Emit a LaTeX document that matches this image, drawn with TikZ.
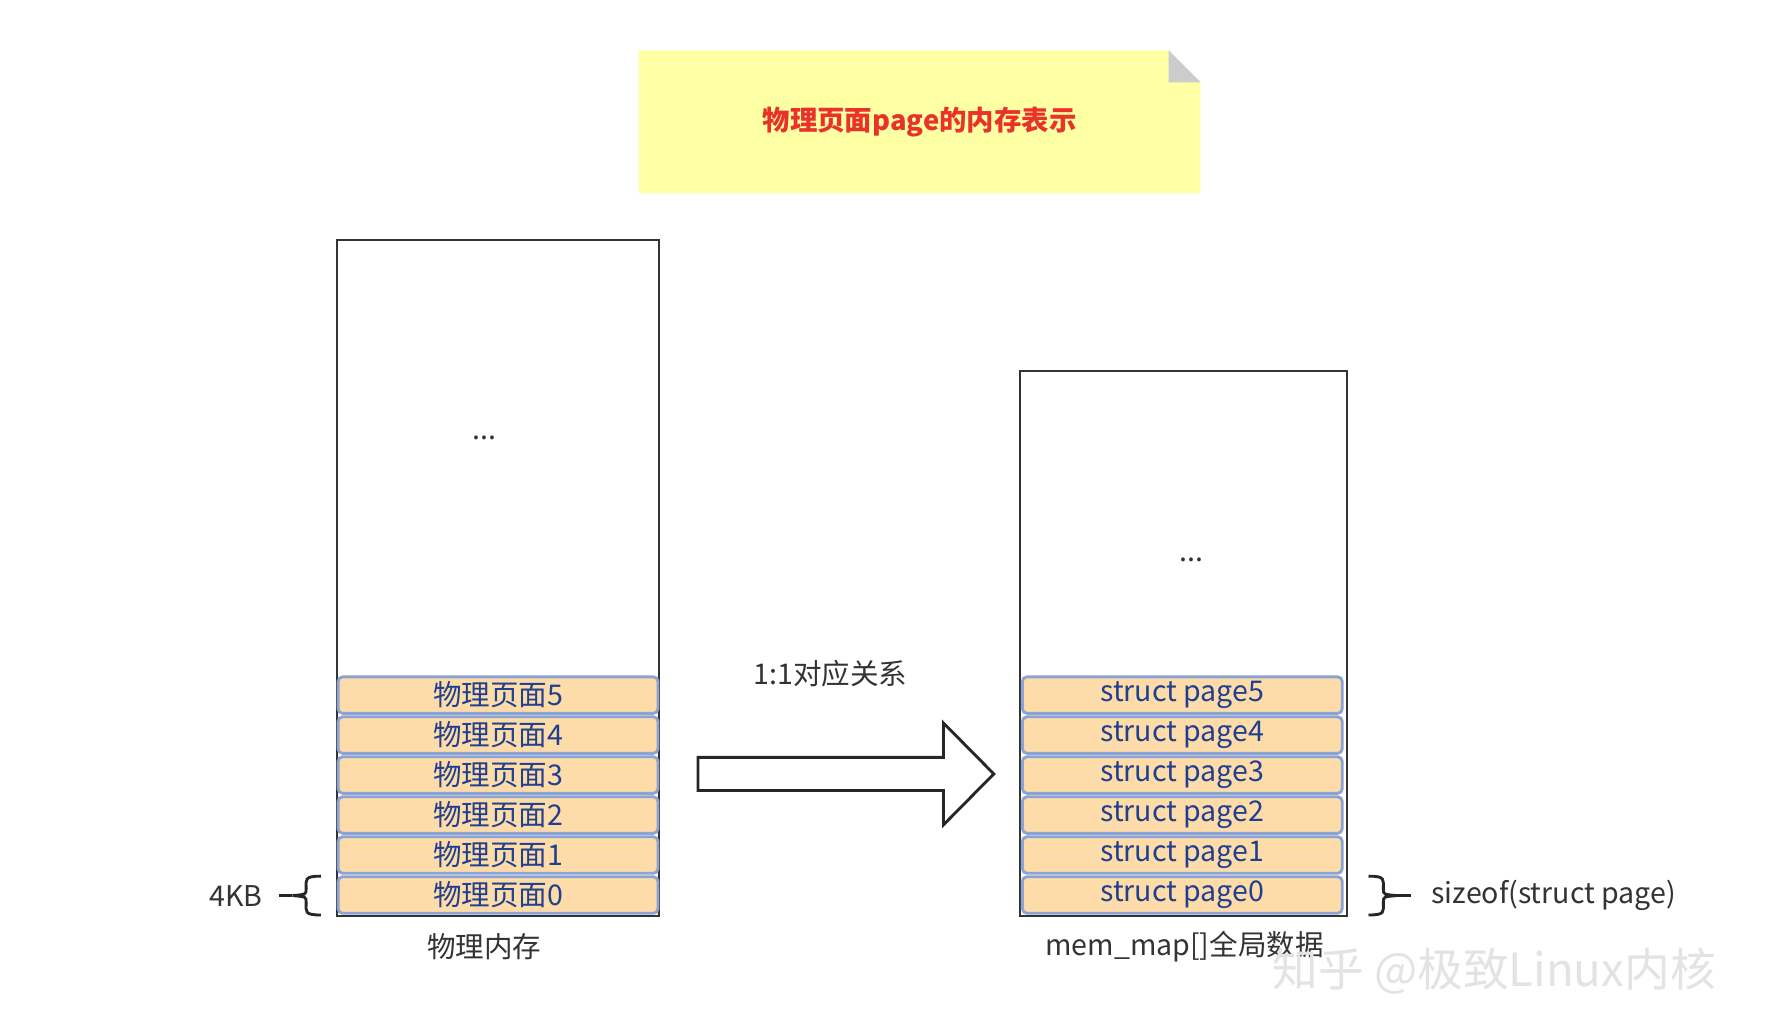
\documentclass[tikz,border=0pt]{standalone}
\usepackage{fontspec}
\setmainfont{Noto Sans CJK SC}
\definecolor{rowfill}{HTML}{FDDCAA}
\definecolor{rowline}{HTML}{8CA4D4}
\definecolor{rowtext}{HTML}{1F3F8F}
\definecolor{notefill}{HTML}{FFFFA3}
\definecolor{titlered}{HTML}{E8322A}
\begin{document}
\begin{tikzpicture}[x=1pt,y=-1pt,
  rowbox/.style={draw=rowline,line width=2.5pt,fill=rowfill,rounded corners=4pt,minimum width=280pt,minimum height=32pt,inner sep=0pt,text=rowtext,font=\fontsize{25}{25}\selectfont},
  lbl/.style={font=\fontsize{25}{25}\selectfont,text=black!80,inner sep=0pt}]
\useasboundingbox (0,0) rectangle (1560,903);
\fill[white] (0,0) rectangle (1560,903);
% note
\fill[notefill] (559,44) -- (1023,44) -- (1051,72) -- (1051,169) -- (559,169) -- cycle;
\fill[gray!40] (1023,44) -- (1051,72) -- (1023,72) -- cycle;
\node[font=\bfseries\fontsize{24}{24}\selectfont,text=titlered] (title) at (805,107) {物理页面page的内存表示};
% left
\draw[line width=2pt,black!80] (295,210) rectangle (577,802);
\node[lbl] (ld) at (424,383) {...};
\foreach \i/\y in {5/608.5,4/643.5,3/678.5,2/713.5,1/748.5,0/783.5}
  \node[rowbox] (l\i) at (436,\y) {物理页面\i};
\node[lbl] (lm) at (424,829) {物理内存};
% right
\draw[line width=2pt,black!80] (893,325) rectangle (1179,802);
\node[lbl] (rd) at (1043,490) {...};
\foreach \i/\y in {5/608.5,4/643.5,3/678.5,2/713.5,1/748.5,0/783.5}
  \node[rowbox] (r\i) at (1035,\y) {struct page\i};
\node[lbl] (rm) at (1037,829) {mem\_map[]全局数据};
% arrow
\draw[line width=2.5pt,black!85,fill=white,line join=miter] (611,663) -- (826,663) -- (826,633) -- (870,677.5) -- (826,722) -- (826,692) -- (611,692) -- cycle;
\node[lbl] (ratio) at (727,590) {1:1对应关系};
% left brace
\node[lbl,anchor=east] (kb) at (230,784) {4KB};
\draw[line width=2.5pt,black!85] (281,767) .. controls (266,767) and (268,770) .. (268,778) .. controls (268,783) .. (256,784) .. controls (268,785) .. (268,790) .. controls (268,798) and (266,801) .. (281,801);
\draw[line width=2.5pt,black!85] (244,784) -- (256,784);
% right brace
\draw[line width=2.5pt,black!85] (1198,767) .. controls (1213,767) and (1211,770) .. (1211,778) .. controls (1211,783) .. (1223,784) .. controls (1211,785) .. (1211,790) .. controls (1211,798) and (1213,801) .. (1198,801);
\draw[line width=2.5pt,black!85] (1223,784) -- (1235,784);
\node[lbl,anchor=west] (sz) at (1253,784) {sizeof(struct page)};
% watermark
\node[font=\fontsize{40}{40}\selectfont,text=gray!22,inner sep=0pt] (wm) at (1308,850) {知乎 @极致Linux内核};
\end{tikzpicture}
\end{document}
